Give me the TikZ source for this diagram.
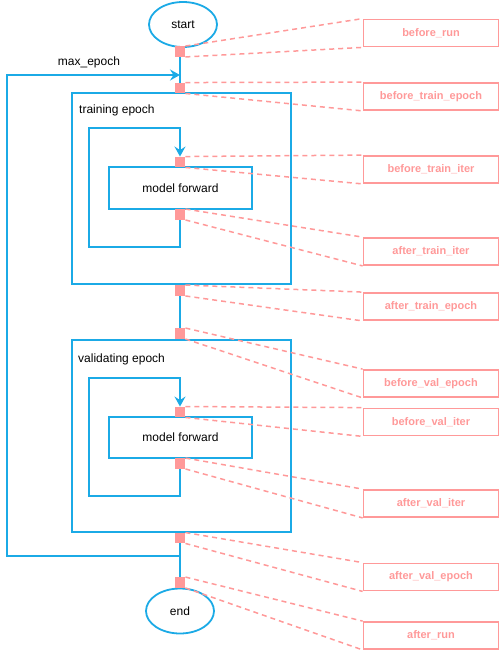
\documentclass[tikz,border=0pt]{standalone}
\usepackage{fontspec}
\setmainfont{Liberation Sans}
\usetikzlibrary{shapes.geometric,arrows.meta}
\definecolor{bblue}{HTML}{1BAAE6}
\definecolor{pinkc}{HTML}{FF9999}
\tikzset{
  bl/.style={draw=bblue,line width=1.8pt},
  tip/.style={-{Stealth[length=10pt,width=11pt,inset=3.5pt]}},
  term/.style={ellipse,draw=bblue,line width=1.8pt,fill=white,minimum width=68pt,minimum height=45pt,inner sep=0pt,font=\fontsize{12}{14}\selectfont},
  bbox/.style={rectangle,draw=bblue,line width=1.8pt,inner sep=0pt,anchor=north west},
  fwd/.style={rectangle,draw=bblue,line width=1.8pt,fill=white,minimum width=143pt,inner sep=0pt,font=\fontsize{12}{14}\selectfont},
  hk/.style={rectangle,fill=pinkc,minimum width=10.5pt,minimum height=10.5pt,inner sep=0pt},
  lab/.style={rectangle,draw=pinkc,line width=1.8pt,minimum width=135pt,minimum height=27pt,inner sep=0pt,text=pinkc,font=\fontsize{11}{13}\selectfont\bfseries},
  dl/.style={draw=pinkc,line width=1.5pt,dash pattern=on 5pt off 4pt},
  txt/.style={font=\fontsize{12}{14}\selectfont,inner sep=0pt}
}
\begin{document}
\begin{tikzpicture}[x=1pt,y=-1pt]
\useasboundingbox (0,0) rectangle (500,651);
% boxes
\node[bbox,minimum width=219pt,minimum height=191pt] (train) at (71,92) {};
\node[bbox,minimum width=219pt,minimum height=192pt] (val) at (71,339) {};
\node[txt,anchor=west] (tlab) at (79,110) {training epoch};
\node[txt,anchor=west] (vlab) at (78,359) {validating epoch};
\node[txt] (me) at (89,62) {max\_epoch};
% terminals
\node[term] (start) at (183,24.5) {start};
\node[term] (end) at (180,611) {end};
% model forward boxes
\node[fwd,minimum height=42pt] (mf1) at (180.5,188) {model forward};
\node[fwd,minimum height=41pt] (mf2) at (180.5,437.5) {model forward};
% hook squares
\node[hk] (s1) at (180,51.5) {};
\node[hk] (s2) at (180,88) {};
\node[hk] (s3) at (180,162) {};
\node[hk] (s4) at (180,214.5) {};
\node[hk] (s5) at (180,290.5) {};
\node[hk] (s6) at (180,333.5) {};
\node[hk] (s7) at (180,412) {};
\node[hk] (s8) at (180,463.5) {};
\node[hk] (s9) at (180,538) {};
\node[hk] (s10) at (180,582.5) {};
% coordinates of loops
\coordinate (a1) at (89,247);
\coordinate (a2) at (89,128);
\coordinate (b1) at (89,496);
\coordinate (b2) at (89,378);
\coordinate (m1) at (7,556);
\coordinate (m2) at (7,75);
% blue connectors
\draw[bl] (start.south -| s1) -- (s1.north);
\draw[bl] (s1.south) -- (s2.north);
\draw[bl] (s2.south) -- (train.north -| s2);
\draw[bl] (train.south -| s5) -- (s5.north);
\draw[bl] (s5.south) -- (s6.north);
\draw[bl] (s6.south) -- (val.north -| s6);
\draw[bl] (val.south -| s9) -- (s9.north);
\draw[bl] (s9.south) -- (s10.north);
\draw[bl] (s10.south) -- (end.north);
\draw[bl] (s3.south) -- (mf1.north);
\draw[bl] (mf1.south) -- (s4.north);
\draw[bl] (s7.south) -- (mf2.north);
\draw[bl] (mf2.south) -- (s8.north);
\draw[bl,tip] (s4.south) |- (a1) -- (a2) -| (s3.north);
\draw[bl,tip] (s8.south) |- (b1) -- (b2) -| (s7.north);
\draw[bl,tip] (s9.south) |- (m1) -- (m2) -- (m2 -| s1);
% labels
\node[lab] (l1) at (431,33) {before\_run};
\node[lab] (l2) at (431,96.5) {before\_train\_epoch};
\node[lab] (l3) at (431,169.5) {before\_train\_iter};
\node[lab] (l4) at (431,251.5) {after\_train\_iter};
\node[lab] (l5) at (431,306.5) {after\_train\_epoch};
\node[lab] (l6) at (431,383.5) {before\_val\_epoch};
\node[lab] (l7) at (431,422) {before\_val\_iter};
\node[lab] (l8) at (431,503.5) {after\_val\_iter};
\node[lab] (l9) at (431,577) {after\_val\_epoch};
\node[lab] (l10) at (431,635.5) {after\_run};
% dashed leaders
\foreach \i in {1,...,10}{
  \draw[dl] (s\i.north east) -- (l\i.north west);
  \draw[dl] (s\i.south east) -- (l\i.south west);
}
% redraw squares on top
\foreach \i in {1,...,10}{
  \fill[pinkc] (s\i.north west) rectangle (s\i.south east);
}
\end{tikzpicture}
\end{document}
